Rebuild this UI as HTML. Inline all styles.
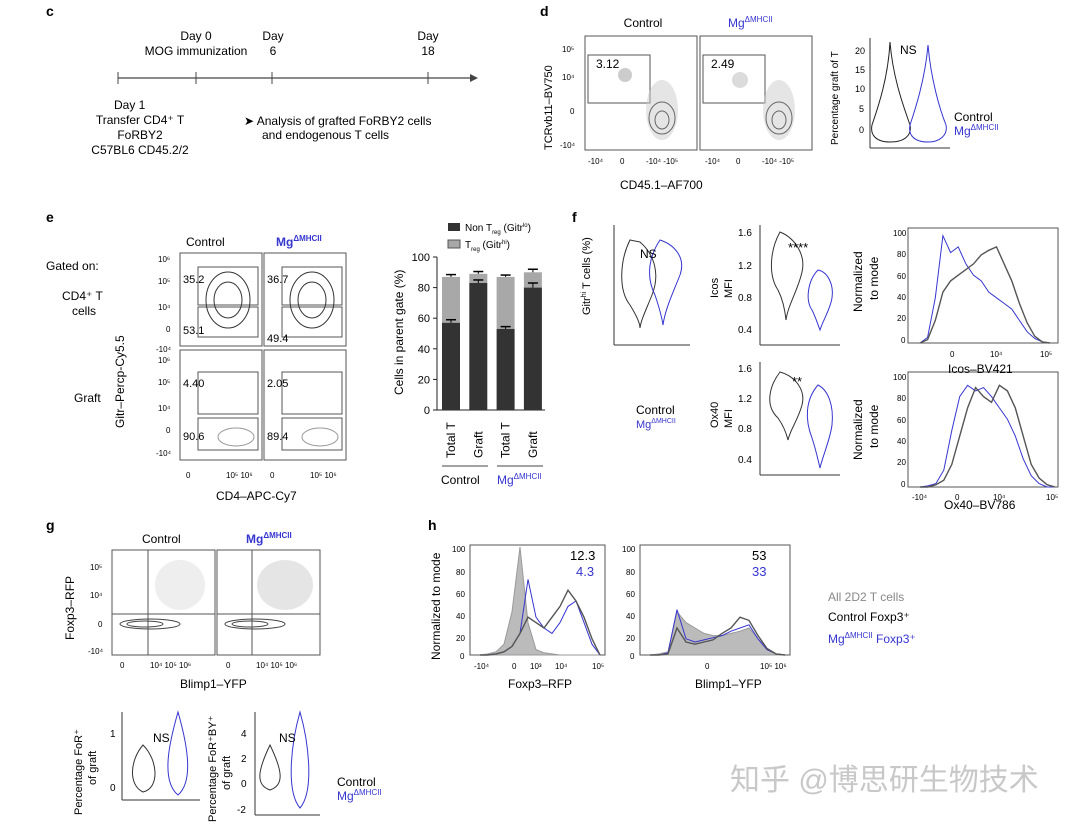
<!DOCTYPE html>
<html><head><meta charset="utf-8"><style>
body{margin:0;background:#fff}
svg{display:block;font-family:"Liberation Sans","Noto Sans CJK SC",sans-serif}
.b{fill:#3535d0}
</style></head><body>
<svg width="1080" height="826" viewBox="0 0 1080 826" font-size="11">
<rect width="1080" height="826" fill="#fff"/>
<!-- panel c -->
<g>
<text x="46" y="16" font-weight="bold" font-size="14">c</text>
<line x1="118" y1="78" x2="470" y2="78" stroke="#444" stroke-width="1.2"/>
<polygon points="470,74 478,78 470,82" fill="#444"/>
<g stroke="#444"><line x1="118" y1="72" x2="118" y2="84"/><line x1="196" y1="72" x2="196" y2="84"/><line x1="272" y1="72" x2="272" y2="84"/><line x1="428" y1="72" x2="428" y2="84"/></g>
<text x="196" y="40" text-anchor="middle" font-size="12">Day 0</text>
<text x="196" y="55" text-anchor="middle" font-size="12">MOG immunization</text>
<text x="273" y="40" text-anchor="middle" font-size="12">Day</text><text x="273" y="55" text-anchor="middle" font-size="12">6</text>
<text x="428" y="40" text-anchor="middle" font-size="12">Day</text><text x="428" y="55" text-anchor="middle" font-size="12">18</text>
<text x="114" y="109" font-size="12">Day 1</text>
<text x="140" y="124" text-anchor="middle" font-size="12">Transfer CD4⁺ T</text>
<text x="140" y="139" text-anchor="middle" font-size="12">FoRBY2</text>
<text x="140" y="154" text-anchor="middle" font-size="12">C57BL6 CD45.2/2</text>
<text x="244" y="125" font-size="12">➤  Analysis of grafted FoRBY2 cells</text>
<text x="262" y="139" font-size="12">and endogenous T cells</text>
</g>
<!-- panel d -->
<g>
<text x="540" y="16" font-weight="bold" font-size="14">d</text>
<text x="643" y="27" text-anchor="middle" font-size="12">Control</text>
<text x="728" y="27" font-size="12" class="b">Mg<tspan dy="-5" font-size="8">ΔMHCII</tspan></text>
<rect x="585" y="36" width="112" height="114" fill="none" stroke="#555"/>
<rect x="700" y="36" width="112" height="114" fill="none" stroke="#555"/>
<rect x="588" y="55" width="62" height="48" fill="none" stroke="#555"/>
<rect x="703" y="55" width="62" height="48" fill="none" stroke="#555"/>
<text x="596" y="68" font-size="12">3.12</text><text x="711" y="68" font-size="12">2.49</text>
<ellipse cx="662" cy="110" rx="16" ry="30" fill="#ccc" opacity=".5"/><ellipse cx="779" cy="110" rx="16" ry="30" fill="#ccc" opacity=".5"/>
<ellipse cx="662" cy="118" rx="13" ry="16" fill="none" stroke="#666"/><ellipse cx="662" cy="120" rx="7" ry="9" fill="none" stroke="#666"/>
<ellipse cx="779" cy="118" rx="13" ry="16" fill="none" stroke="#666"/><ellipse cx="779" cy="120" rx="7" ry="9" fill="none" stroke="#666"/>
<circle cx="625" cy="75" r="7" fill="#999" opacity=".5"/><circle cx="740" cy="80" r="8" fill="#999" opacity=".35"/>
<text transform="translate(552,150) rotate(-90)" font-size="11">TCRvb11–BV750</text>
<text x="620" y="189" font-size="12">CD45.1–AF700</text>
<g font-size="8"><text x="562" y="52">10⁵</text><text x="562" y="80">10⁴</text><text x="570" y="114">0</text><text x="560" y="148">-10⁴</text>
<text x="588" y="164">-10⁴</text><text x="620" y="164">0</text><text x="646" y="164">-10⁴ -10⁵</text><text x="705" y="164">-10⁴</text><text x="736" y="164">0</text><text x="762" y="164">-10⁴ -10⁵</text></g>
<line x1="870" y1="38" x2="870" y2="148" stroke="#333"/><line x1="870" y1="148" x2="950" y2="148" stroke="#333"/>
<g font-size="9"><text x="855" y="54">20</text><text x="855" y="73">15</text><text x="855" y="92">10</text><text x="859" y="112">5</text><text x="859" y="133">0</text></g>
<text transform="translate(838,145) rotate(-90)" font-size="10">Percentage graft of T</text>
<path d="M890,42 C893,80 905,110 910,125 C912,135 905,142 890,142 C876,142 870,135 872,125 C877,110 888,80 890,42Z" fill="none" stroke="#222"/>
<path d="M928,45 C931,80 940,110 946,125 C948,135 940,142 928,142 C914,142 908,135 910,125 C915,110 925,80 928,45Z" fill="none" stroke="#3535d0"/>
<text x="900" y="54" font-size="12">NS</text>
<text x="954" y="121" font-size="12">Control</text><text x="954" y="135" font-size="12" class="b">Mg<tspan dy="-5" font-size="8">ΔMHCII</tspan></text>
</g>
<!-- panel e -->
<g>
<text x="46" y="222" font-weight="bold" font-size="14">e</text>
<text x="186" y="246" font-size="12">Control</text>
<text x="276" y="246" font-size="12" class="b" font-weight="bold">Mg<tspan dy="-5" font-size="8">ΔMHCII</tspan></text>
<text x="46" y="270" font-size="12">Gated on:</text>
<text x="62" y="300" font-size="12">CD4⁺ T</text><text x="72" y="315" font-size="12">cells</text>
<text x="74" y="402" font-size="12">Graft</text>
<rect x="180" y="253" width="82" height="93" fill="none" stroke="#555"/><rect x="264" y="253" width="82" height="93" fill="none" stroke="#555"/>
<rect x="180" y="350" width="82" height="110" fill="none" stroke="#555"/><rect x="264" y="350" width="82" height="110" fill="none" stroke="#555"/>
<g fill="none" stroke="#555"><rect x="198" y="267" width="60" height="38"/><rect x="198" y="307" width="60" height="30"/><rect x="282" y="267" width="60" height="38"/><rect x="282" y="307" width="60" height="30"/>
<rect x="198" y="372" width="60" height="42"/><rect x="198" y="418" width="60" height="32"/><rect x="282" y="372" width="60" height="42"/><rect x="282" y="418" width="60" height="32"/></g>
<g fill="none" stroke="#333"><ellipse cx="228" cy="300" rx="22" ry="28"/><ellipse cx="228" cy="300" rx="14" ry="18"/><ellipse cx="312" cy="300" rx="22" ry="28"/><ellipse cx="312" cy="300" rx="14" ry="18"/>
<ellipse cx="236" cy="437" rx="18" ry="9" stroke="#999"/><ellipse cx="320" cy="437" rx="18" ry="9" stroke="#999"/></g>
<g font-size="11"><text x="183" y="283">35.2</text><text x="183" y="334">53.1</text><text x="267" y="283">36.7</text><text x="267" y="342">49.4</text>
<text x="183" y="387">4.40</text><text x="183" y="440">90.6</text><text x="267" y="387">2.05</text><text x="267" y="440">89.4</text></g>
<g font-size="8"><text x="158" y="262">10⁶</text><text x="158" y="284">10⁵</text><text x="158" y="310">10⁴</text><text x="166" y="332">0</text><text x="156" y="352">-10⁴</text>
<text x="158" y="363">10⁶</text><text x="158" y="385">10⁵</text><text x="158" y="411">10⁴</text><text x="166" y="433">0</text><text x="156" y="456">-10⁴</text>
<text x="186" y="478">0</text><text x="226" y="478">10⁵ 10⁶</text><text x="270" y="478">0</text><text x="310" y="478">10⁵ 10⁶</text></g>
<text transform="translate(124,428) rotate(-90)" font-size="12">Gitr–Percp-Cy5.5</text>
<text x="216" y="500" font-size="12">CD4–APC-Cy7</text>
<rect x="448" y="223" width="12" height="8" fill="#333"/><rect x="448" y="240" width="12" height="8" fill="#a8a8a8" stroke="#555"/>
<text x="465" y="231" font-size="10">Non T<tspan dy="3" font-size="6">reg</tspan><tspan dy="-3"> (Gitr</tspan><tspan dy="-4" font-size="6">lo</tspan><tspan dy="4">)</tspan></text>
<text x="465" y="248" font-size="10">T<tspan dy="3" font-size="6">reg</tspan><tspan dy="-3"> (Gitr</tspan><tspan dy="-4" font-size="6">hi</tspan><tspan dy="4">)</tspan></text>
<text x="441" y="484" font-size="12">Control</text>
<text x="497" y="484" font-size="12" class="b">Mg<tspan dy="-5" font-size="8">ΔMHCII</tspan></text>
</g>
<g id="barchart"></g>
<!-- panel f -->
<g>
<text x="572" y="222" font-weight="bold" font-size="14">f</text>
<line x1="614" y1="225" x2="614" y2="345" stroke="#333"/><line x1="614" y1="345" x2="690" y2="345" stroke="#333"/>
<text transform="translate(590,315) rotate(-90)" font-size="11">Gitr<tspan dy="-4" font-size="7">hi</tspan><tspan dy="4"> T cells (%)</tspan></text>
<path d="M630,240 C620,260 618,290 630,305 C638,318 640,325 640,328 C641,320 646,310 652,295 C660,275 655,255 640,242Z" fill="none" stroke="#333"/>
<path d="M660,240 C650,255 645,275 655,295 C660,310 662,318 663,325 C665,310 672,295 680,275 C686,258 675,245 660,240Z" fill="none" stroke="#3535d0"/>
<text x="640" y="258" font-size="12">NS</text>
<line x1="760" y1="225" x2="760" y2="345" stroke="#333"/><line x1="760" y1="345" x2="840" y2="345" stroke="#333"/>
<g font-size="10"><text x="738" y="236">1.6</text><text x="738" y="269">1.2</text><text x="738" y="301">0.8</text><text x="738" y="333">0.4</text></g>
<text transform="translate(718,298) rotate(-90)" font-size="11">Icos</text><text transform="translate(732,298) rotate(-90)" font-size="11">MFI</text>
<path d="M780,232 C770,250 768,275 778,290 C783,300 785,310 786,320 C788,305 798,290 802,272 C806,255 795,238 780,232Z" fill="none" stroke="#333"/>
<path d="M818,270 C808,280 805,300 812,310 C816,318 818,325 820,330 C823,320 830,310 832,298 C834,285 828,272 818,270Z" fill="none" stroke="#3535d0"/>
<text x="788" y="252" font-size="13">****</text>
<line x1="760" y1="362" x2="760" y2="475" stroke="#333"/><line x1="760" y1="475" x2="840" y2="475" stroke="#333"/>
<g font-size="10"><text x="738" y="372">1.6</text><text x="738" y="402">1.2</text><text x="738" y="432">0.8</text><text x="738" y="463">0.4</text></g>
<text transform="translate(718,428) rotate(-90)" font-size="11">Ox40</text><text transform="translate(732,428) rotate(-90)" font-size="11">MFI</text>
<path d="M780,372 C770,385 764,405 778,418 C783,425 786,432 788,440 C790,430 798,420 802,405 C806,390 795,376 780,372Z" fill="none" stroke="#333"/>
<path d="M818,385 C805,400 805,420 812,438 C816,450 818,460 820,468 C823,455 830,440 832,425 C834,405 828,390 818,385Z" fill="none" stroke="#3535d0"/>
<text x="792" y="386" font-size="13">**</text>
<text x="636" y="414" font-size="12">Control</text><text x="636" y="428" font-size="11" class="b">Mg<tspan dy="-5" font-size="7">ΔMHCII</tspan></text>
<text transform="translate(862,312) rotate(-90)" font-size="12">Normalized</text><text transform="translate(878,300) rotate(-90)" font-size="12">to mode</text>
<text transform="translate(862,460) rotate(-90)" font-size="12">Normalized</text><text transform="translate(878,448) rotate(-90)" font-size="12">to mode</text>
<rect x="908" y="228" width="150" height="115" fill="none" stroke="#555"/>
<rect x="908" y="372" width="150" height="115" fill="none" stroke="#555"/>
<g font-size="8"><text x="893" y="236">100</text><text x="897" y="257">80</text><text x="897" y="279">60</text><text x="897" y="300">40</text><text x="897" y="321">20</text><text x="901" y="343">0</text>
<text x="893" y="380">100</text><text x="897" y="401">80</text><text x="897" y="423">60</text><text x="897" y="444">40</text><text x="897" y="465">20</text><text x="901" y="487">0</text>
<text x="950" y="357">0</text><text x="990" y="357">10⁴</text><text x="1040" y="357">10⁵</text>
<text x="912" y="500">-10⁴</text><text x="955" y="500">0</text><text x="993" y="500">10⁴</text><text x="1046" y="500">10⁵</text></g>
<text x="948" y="373" font-size="12">Icos–BV421</text>
<text x="944" y="509" font-size="12">Ox40–BV786</text>
<path id="h1" fill="none" stroke="#3535d0"/><path id="h2" fill="none" stroke="#555" stroke-width="1.4"/>
<path id="h3" fill="none" stroke="#3535d0"/><path id="h4" fill="none" stroke="#555" stroke-width="1.4"/>
</g>
<!-- panel g -->
<g>
<text x="46" y="530" font-weight="bold" font-size="14">g</text>
<text x="142" y="543" font-size="12">Control</text>
<text x="246" y="543" font-size="12" class="b" font-weight="bold">Mg<tspan dy="-5" font-size="8">ΔMHCII</tspan></text>
<rect x="112" y="550" width="103" height="105" fill="none" stroke="#555"/><rect x="217" y="550" width="103" height="105" fill="none" stroke="#555"/>
<g stroke="#555"><line x1="148" y1="550" x2="148" y2="655"/><line x1="112" y1="614" x2="215" y2="614"/><line x1="252" y1="550" x2="252" y2="655"/><line x1="217" y1="614" x2="320" y2="614"/></g>
<ellipse cx="180" cy="585" rx="25" ry="25" fill="#ddd" opacity=".5"/><ellipse cx="285" cy="585" rx="28" ry="25" fill="#ccc" opacity=".5"/>
<g fill="none" stroke="#444"><ellipse cx="150" cy="624" rx="30" ry="5"/><ellipse cx="145" cy="624" rx="18" ry="3"/><ellipse cx="255" cy="624" rx="30" ry="5"/><ellipse cx="250" cy="624" rx="18" ry="3"/></g>
<g font-size="8"><text x="90" y="570">10⁵</text><text x="90" y="598">10⁴</text><text x="98" y="627">0</text><text x="88" y="654">-10⁴</text>
<text x="120" y="668">0</text><text x="150" y="668">10⁴ 10⁵ 10⁶</text><text x="226" y="668">0</text><text x="256" y="668">10⁴ 10⁵ 10⁶</text></g>
<text transform="translate(74,640) rotate(-90)" font-size="12">Foxp3–RFP</text>
<text x="180" y="688" font-size="12">Blimp1–YFP</text>
<line x1="122" y1="712" x2="122" y2="800" stroke="#333"/><line x1="122" y1="800" x2="200" y2="800" stroke="#333"/>
<line x1="255" y1="712" x2="255" y2="815" stroke="#333"/><line x1="255" y1="815" x2="320" y2="815" stroke="#333"/>
<g font-size="10"><text x="110" y="737">1</text><text x="110" y="791">0</text><text x="241" y="737">4</text><text x="241" y="762">2</text><text x="241" y="787">0</text><text x="237" y="813">-2</text></g>
<text transform="translate(82,815) rotate(-90)" font-size="11">Percentage FoR⁺</text><text transform="translate(96,785) rotate(-90)" font-size="11">of graft</text>
<text transform="translate(216,822) rotate(-90)" font-size="11">Percentage FoR⁺BY⁺</text><text transform="translate(230,790) rotate(-90)" font-size="11">of graft</text>
<path d="M143,745 C130,760 128,785 143,792 C160,788 158,760 143,745Z" fill="none" stroke="#333"/>
<path d="M178,712 C170,740 160,780 178,795 C195,780 186,740 178,712Z" fill="none" stroke="#3535d0"/>
<path d="M270,745 C258,770 255,785 270,790 C285,785 282,770 270,745Z" fill="none" stroke="#333"/>
<path d="M300,712 C292,740 285,790 300,808 C315,790 308,740 300,712Z" fill="none" stroke="#3535d0"/>
<text x="153" y="742" font-size="12">NS</text><text x="279" y="742" font-size="12">NS</text>
<text x="337" y="786" font-size="12">Control</text><text x="337" y="800" font-size="12" class="b">Mg<tspan dy="-5" font-size="8">ΔMHCII</tspan></text>
</g>
<!-- panel h -->
<g>
<text x="428" y="530" font-weight="bold" font-size="14">h</text>
<rect x="470" y="545" width="135" height="110" fill="none" stroke="#555"/><rect x="640" y="545" width="150" height="110" fill="none" stroke="#555"/>
<path id="h5" fill="#bbb" stroke="#999"/><path id="h6" fill="none" stroke="#3535d0"/><path id="h7" fill="none" stroke="#555" stroke-width="1.4"/>
<path id="h8" fill="#bbb" stroke="#999"/><path id="h9" fill="none" stroke="#3535d0"/><path id="h10" fill="none" stroke="#555" stroke-width="1.4"/>
<g font-size="8"><text x="452" y="552">100</text><text x="456" y="575">80</text><text x="456" y="597">60</text><text x="456" y="619">40</text><text x="456" y="641">20</text><text x="460" y="659">0</text>
<text x="622" y="552">100</text><text x="626" y="575">80</text><text x="626" y="597">60</text><text x="626" y="619">40</text><text x="626" y="641">20</text><text x="630" y="659">0</text>
<text x="474" y="669">-10⁴</text><text x="512" y="669">0</text><text x="530" y="669">10³</text><text x="555" y="669">10⁴</text><text x="592" y="669">10⁵</text>
<text x="705" y="669">0</text><text x="760" y="669">10⁵ 10⁶</text></g>
<text transform="translate(440,660) rotate(-90)" font-size="12">Normalized to mode</text>
<text x="508" y="688" font-size="12">Foxp3–RFP</text><text x="695" y="688" font-size="12">Blimp1–YFP</text>
<text x="570" y="560" font-size="13">12.3</text><text x="576" y="576" font-size="13" class="b">4.3</text>
<text x="752" y="560" font-size="13">53</text><text x="752" y="576" font-size="13" class="b">33</text>
<text x="828" y="601" font-size="12" fill="#888">All 2D2 T cells</text>
<text x="828" y="621" font-size="12">Control Foxp3⁺</text>
<text x="828" y="643" font-size="12" class="b">Mg<tspan dy="-5" font-size="8">ΔMHCII</tspan><tspan dy="5"> Foxp3⁺</tspan></text>
</g>
<text x="730" y="790" font-size="30" fill="#c8c8c8">知乎 @博思研生物技术</text>
<script>
// bar chart data
const barCategories=["Total T","Graft","Total T","Graft"];
const nonTreg=[57,83,53,80];
const total=[87,89,87,90];
const nonErr=[2,2,1.5,3];
const totErr=[1.5,1.5,1.2,2];
const yTicks=[0,20,40,60,80,100];
const NS="http://www.w3.org/2000/svg";
function mk(t,a,p){const e=document.createElementNS(NS,t);for(const k in a)e.setAttribute(k,a[k]);p.appendChild(e);return e;}
const g=document.getElementById('barchart');
const X0=437,X1=545,Y0=410,Y1=257;
const ys=v=>Y0-(v/100)*(Y0-Y1);
const xs=i=>451+i*27.3;
mk('line',{x1:X0,y1:Y1,x2:X0,y2:Y0,stroke:'#222'},g);
mk('line',{x1:X0,y1:Y0,x2:X1,y2:Y0,stroke:'#222'},g);
yTicks.forEach(t=>{mk('line',{x1:X0-4,y1:ys(t),x2:X0,y2:ys(t),stroke:'#222'},g);const tx=mk('text',{x:X0-7,y:ys(t)+4,'text-anchor':'end','font-size':11},g);tx.textContent=t;});
barCategories.forEach((c,i)=>{
const x=xs(i)-9;
const r1=mk('rect',{x:x,y:ys(total[i]),width:18,height:ys(nonTreg[i])-ys(total[i]),fill:'#a8a8a8'},g);


const r2=mk('rect',{x:x,y:ys(nonTreg[i]),width:18,height:Y0-ys(nonTreg[i]),fill:'#333'},g);


[[total[i],totErr[i]],[nonTreg[i],nonErr[i]]].forEach(([v,e])=>{mk('line',{x1:xs(i),y1:ys(v),x2:xs(i),y2:ys(v+e),stroke:'#000'},g);mk('line',{x1:xs(i)-5,y1:ys(v+e),x2:xs(i)+5,y2:ys(v+e),stroke:'#000','stroke-width':1.5},g);});
const t=mk('text',{transform:`translate(${xs(i)+4},458) rotate(-90)`,'font-size':12},g);t.textContent=c;
});
mk('line',{x1:442,y1:466,x2:488,y2:466,stroke:'#444'},g);mk('line',{x1:497,y1:466,x2:543,y2:466,stroke:'#444'},g);
const yl=mk('text',{transform:'translate(403,395) rotate(-90)','font-size':12},g);yl.textContent='Cells in parent gate (%)';
// histogram data (% of mode at evenly spaced positions)
const icosBlue=[0,5,40,95,80,85,70,60,55,45,40,35,30,20,10,4,1,0];
const icosCtrl=[0,3,20,45,55,60,65,70,78,82,85,70,55,35,18,6,1,0];
const ox40Blue=[0,1,3,15,50,80,90,85,88,80,70,60,45,25,10,3,0,0];
const ox40Ctrl=[0,0,2,6,20,45,70,88,80,75,90,85,70,45,20,8,2,0];
const foxAll=[0,1,3,10,40,100,30,5,2,1,0,0,0,0,0,0];
const foxBlue=[0,0,1,3,8,20,70,35,25,20,30,45,50,30,10,0];
const foxCtrl=[0,0,1,3,8,20,35,30,25,35,45,60,50,35,15,0];
const blAll=[0,1,3,40,30,25,20,18,18,20,22,25,15,5,1,0];
const blBlue=[0,0,2,42,15,12,14,16,18,22,25,28,15,5,1,0];
const blCtrl=[0,0,1,25,12,10,12,14,20,25,35,32,18,6,1,0];
function hist(id,arr,x0,x1,y0,y1,closed){
const n=arr.length;let d='';
arr.forEach((v,i)=>{const x=x0+(x1-x0)*i/(n-1),y=y0-(y0-y1)*v/100;d+=(i?'L':'M')+x.toFixed(1)+','+y.toFixed(1);});
if(closed)d+='Z';document.getElementById(id).setAttribute('d',d);}
hist('h1',icosBlue,920,1050,343,230);hist('h2',icosCtrl,920,1050,343,230);
hist('h3',ox40Blue,920,1055,487,374);hist('h4',ox40Ctrl,920,1055,487,374);
hist('h5',foxAll,480,600,655,547,true);hist('h6',foxBlue,480,600,655,547);hist('h7',foxCtrl,480,600,655,547);
hist('h8',blAll,650,785,655,547,true);hist('h9',blBlue,650,785,655,547);hist('h10',blCtrl,650,785,655,547);
</script>
</svg>
</body></html>
